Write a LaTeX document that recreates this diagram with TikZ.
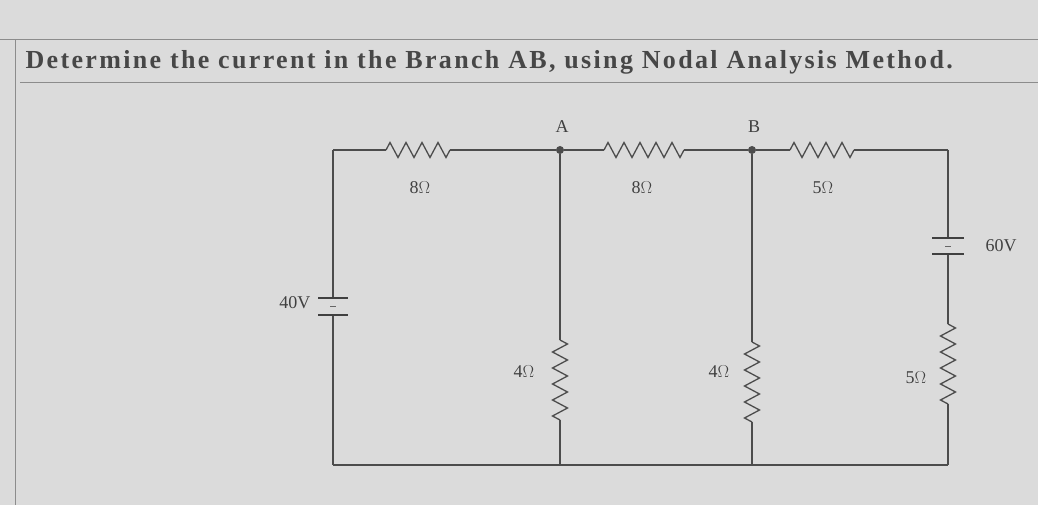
\documentclass[tikz,border=0pt]{standalone}
\usepackage{fontspec}
\setmainfont{Liberation Serif}
\usetikzlibrary{decorations.pathmorphing}
\begin{document}
\begin{tikzpicture}[x=1pt,y=-1pt,
  wire/.style={line width=1.3pt,draw=black!70},
  res/.style={wire,decorate,decoration={zigzag,segment length=16pt,amplitude=7.5pt}},
  plate/.style={line width=1.6pt,draw=black!75},
  lbl/.style={font=\fontsize{18}{18}\selectfont,text=black!75},
  dot/.style={circle,fill=black!70,inner sep=0pt,minimum size=8pt}]
\fill[black!14] (0,0) rectangle (1038,505);
\useasboundingbox (0,0) rectangle (1038,505);
\draw[line width=1pt,black!45] (0,40) -- (1038,40) (15,40) -- (15,505) (20,83)--(1038,83);
\node[anchor=west,font=\fontsize{26}{26}\selectfont\bfseries\addfontfeature{LetterSpace=9},text=black!72] (t) at (22,62) {Determine the current in the Branch AB, using Nodal Analysis Method.};
\coordinate (TL) at (333,150); \coordinate (TR) at (948,150);
\coordinate (BL) at (333,465); \coordinate (BR) at (948,465);
\node[dot] (A) at (560,150) {}; \node[dot] (B) at (752,150) {};
\coordinate (AB) at (560,465); \coordinate (BB) at (752,465);
\node[lbl] at (562,127) {A}; \node[lbl] at (754,127) {B};
\coordinate (r1a) at (386,150); \coordinate (r1b) at (450,150);
\coordinate (r2a) at (604,150); \coordinate (r2b) at (684,150);
\coordinate (r3a) at (790,150); \coordinate (r3b) at (854,150);
\draw[wire] (TL) -- (r1a); \draw[res] (r1a) -- (r1b); \draw[wire] (r1b) -- (A);
\draw[wire] (A) -- (r2a); \draw[res] (r2a) -- (r2b); \draw[wire] (r2b) -- (B);
\draw[wire] (B) -- (r3a); \draw[res] (r3a) -- (r3b); \draw[wire] (r3b) -- (TR);
\node[lbl] at (420,188) {8$\Omega$};
\node[lbl] at (642,188) {8$\Omega$};
\node[lbl] at (823,188) {5$\Omega$};
\coordinate (v1a) at (560,340); \coordinate (v1b) at (560,420);
\coordinate (v2a) at (752,342); \coordinate (v2b) at (752,422);
\coordinate (v3a) at (948,324); \coordinate (v3b) at (948,404);
\draw[wire] (A) -- (v1a); \draw[res] (v1a) -- (v1b); \draw[wire] (v1b) -- (AB);
\draw[wire] (B) -- (v2a); \draw[res] (v2a) -- (v2b); \draw[wire] (v2b) -- (BB);
\node[lbl] at (524,372) {4$\Omega$}; \node[lbl] at (719,372) {4$\Omega$};
\node[lbl] at (916,378) {5$\Omega$};
\coordinate (b1t) at (333,298); \coordinate (b1b) at (333,315);
\draw[wire] (TL) -- (b1t); \draw[wire] (b1b) -- (BL);
\draw[plate] (318,298) -- (348,298) (318,315) -- (348,315);
\draw[line width=1pt,black!60] (330,306) -- (336,306);
\node[lbl,anchor=east] at (314,303) {40V};
\coordinate (b2t) at (948,238); \coordinate (b2b) at (948,254);
\draw[wire] (TR) -- (b2t); \draw[wire] (b2b) -- (v3a);
\draw[res] (v3a) -- (v3b); \draw[wire] (v3b) -- (BR);
\draw[plate] (932,238) -- (964,238) (932,254) -- (964,254);
\draw[line width=1pt,black!60] (945,246) -- (951,246);
\node[lbl,anchor=west] at (982,246) {60V};
\draw[wire] (BL) -- (AB) -- (BB) -- (BR);
\end{tikzpicture}
\end{document}
